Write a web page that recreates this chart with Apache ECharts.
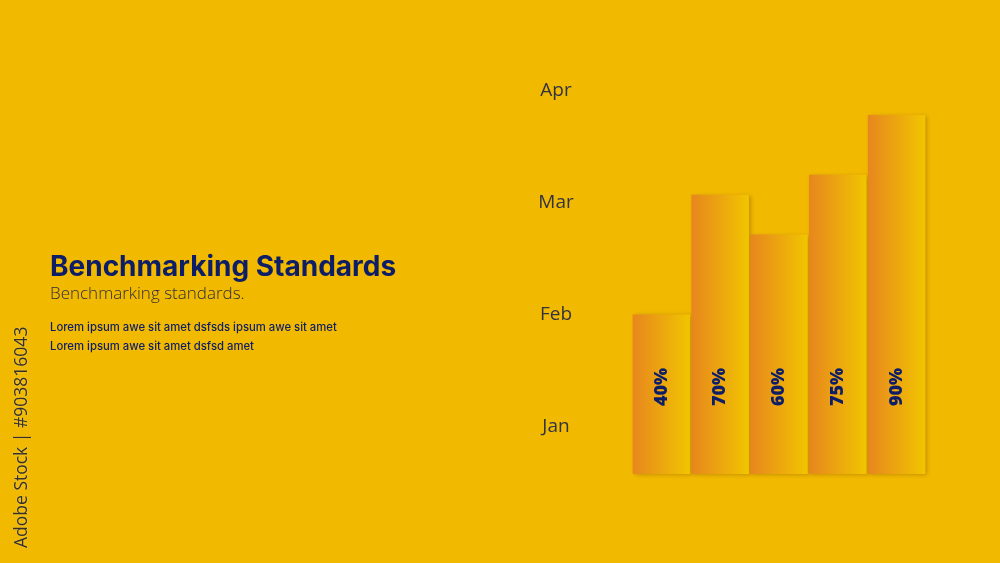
<!DOCTYPE html>
<html>
<head>
<meta charset="utf-8">
<script src="https://cdn.jsdelivr.net/npm/echarts@6/dist/echarts.min.js"></script>
<style>
html,body{margin:0;padding:0;background:#F1B900;}
#c{width:1000px;height:563px;}
</style>
</head>
<body>
<div id="c"></div>
<script>
var barCategories = ['A', 'B', 'C', 'D', 'E'];
var barValues = [40, 70, 60, 75, 90];
var barLabels = ['40%', '70%', '60%', '75%', '90%'];
var monthLabels = ['Jan', 'Feb', 'Mar', 'Apr'];

var chart = echarts.init(document.getElementById('c'));
var navy = '#0E1E66';
chart.setOption({
  backgroundColor: '#F1B900',
  animation: false,
  grid: [
    {left: 632, right: 74, top: 75, bottom: 89},
    {left: 556, width: 10, top: 34, bottom: 80}
  ],
  xAxis: [
    {type: 'category', gridIndex: 0, data: barCategories, show: false},
    {type: 'value', gridIndex: 1, show: false}
  ],
  yAxis: [
    {type: 'value', gridIndex: 0, min: 0, max: 100, show: false},
    {type: 'category', gridIndex: 1, data: monthLabels,
     axisLine: {show: false}, axisTick: {show: false}, splitLine: {show: false},
     axisLabel: {margin: 0, align: 'center', color: '#333340', fontSize: 19, fontFamily: 'Open Sans'}}
  ],
  series: [{
    type: 'bar',
    xAxisIndex: 0, yAxisIndex: 0,
    data: barValues,
    barWidth: 57.5,
    itemStyle: {
      color: new echarts.graphic.LinearGradient(0, 0, 1, 0, [
        {offset: 0, color: '#E7861E'},
        {offset: 1, color: '#F1C500'}
      ]),
      shadowColor: 'rgba(120,70,0,0.35)',
      shadowBlur: 4,
      shadowOffsetX: 2,
      shadowOffsetY: 1
    },
    label: {
      show: true,
      position: 'insideBottom',
      distance: 87,
      rotate: 90,
      align: 'center',
      verticalAlign: 'middle',
      formatter: function (p) { return barLabels[p.dataIndex]; },
      color: navy,
      fontSize: 18,
      fontWeight: 800,
      fontFamily: 'Open Sans'
    }
  }],
  graphic: [
    {type: 'text', left: 50, top: 254, style: {text: 'Benchmarking Standards', fill: navy, font: '700 28px Inter'}},
    {type: 'text', left: 50, top: 286, style: {text: 'Benchmarking standards.', fill: '#2E2E3A', font: '300 17px "Open Sans"'}},
    {type: 'text', left: 50, top: 322, style: {text: 'Lorem ipsum awe sit amet dsfsds ipsum awe sit amet', fill: navy, font: '500 11.3px Inter'}},
    {type: 'text', left: 50, top: 341, style: {text: 'Lorem ipsum awe sit amet dsfsd amet', fill: navy, font: '500 11.3px Inter'}},
    {type: 'text', x: 31, y: 548, rotation: Math.PI / 2, style: {text: 'Adobe Stock | #903816043', fill: '#35302A', font: '17.5px "Open Sans"', textVerticalAlign: 'bottom', textShadowColor: 'rgba(255,255,255,0.35)', textShadowBlur: 2}}
  ]
});
</script>
</body>
</html>
